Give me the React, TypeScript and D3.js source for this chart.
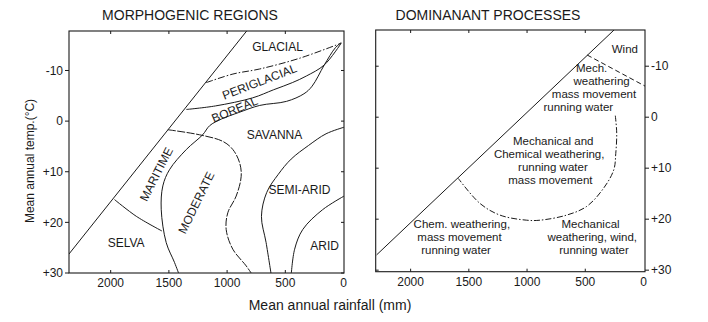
import React from "react";
import * as d3 from "d3";

type Pt = [number, number]; // [rainfall mm, temperature °C]

const rainTicks = [2000, 1500, 1000, 500, 0];
const tempTicks = [-10, 0, 10, 20, 30];
const tempLabel = (t: number) => (t > 0 ? `+${t}` : `${t}`);

// morphogenic regions (left)
const regionDiagonal: Pt[] = [[2360, 26.3], [832, -17.8]];
const glacialLine: Pt[] = [[1180, -7.6], [950, -9.3], [720, -10.3], [380, -12.4], [20, -15.4]];
const periglacialLine: Pt[] = [[1350, -2.3], [1100, -3.0], [780, -4.6], [600, -6.2], [440, -7.6], [320, -8.9], [165, -11.1], [20, -15.4]];
const borealLine: Pt[] = [
  [20, -15.5], [70, -14.5], [165, -11.1], [270, -6.9], [340, -5.4], [490, -3.9], [720, -3.1],
  [900, -1.7], [1050, -0.4], [1150, 0.9], [1210, 2.7], [1350, 5.6], [1495, 9.6], [1552, 12.8],
  [1566, 17.4], [1523, 24.0], [1452, 27.9], [1409, 30.5],
];
const selvaLine: Pt[] = [[1967, 15.5], [1780, 18.8], [1560, 21.7]];
const moderateLine: Pt[] = [
  [1509, 1.7], [1237, 2.7], [1037, 4.0], [951, 5.6], [893, 8.2], [879, 10.9], [922, 14.8],
  [994, 18.1], [1008, 21.4], [951, 25.3], [836, 28.6], [779, 30.5],
];
const semiAridLine: Pt[] = [[-5, 1.2], [150, 2.5], [300, 4.8], [450, 7.5], [560, 10.5], [660, 14.1], [705, 18.8], [665, 24], [620, 30.5]];
const aridLine: Pt[] = [[-5, 14.8], [180, 17.5], [350, 21.4], [420, 25.3], [450, 30.5]];

const regionNames = ["GLACIAL", "PERIGLACIAL", "BOREAL", "SAVANNA", "MARITIME", "MODERATE", "SEMI-ARID", "ARID", "SELVA"];
const regionAnchors: Pt[] = [[567, -14.7], [722, -7.8], [936, -2.3], [593, 2.7], [1609, 10.5], [1265, 16.1], [378, 13.5], [163, 24.7], [1867, 24]];

// dominant processes (right)
const processDiagonal: Pt[] = [[2292, 27.0], [253, -17.1]];
const windLine: Pt[] = [[484, -12.2], [-13, -6.1]];
const chemLine: Pt[] = [
  [242, -0.3], [230, 3.1], [238, 7.1], [255, 10.3], [345, 14.0], [488, 17.5], [660, 19.2],
  [889, 20.2], [1003, 20.2], [1233, 19.2], [1405, 16.9], [1591, 12.0],
];
const processNames = [
  ["Wind"],
  ["Mech.", "weathering", "mass movement", "running water"],
  ["Mechanical and", "Chemical weathering,", "running water", "mass movement"],
  ["Chem. weathering,", "mass movement", "running water"],
  ["Mechanical", "weathering, wind,", "running water"],
];
const processAnchors: Pt[][] = [
  [[160, -13.4]],
  [[445, -9.57], [360, -7.02], [425, -4.47], [560, -1.92]],
  [[775, 4.75], [810, 7.29], [778, 9.84], [800, 12.39]],
  [[1560, 21.02], [1580, 23.57], [1610, 26.12]],
  [[455, 21.02], [440, 23.57], [425, 26.12]],
];

const FONT = "'Liberation Sans', Arial, Helvetica, sans-serif";
const INK = "#1a1a1a";

type PanelProps = {
  x0: number; x1: number; y0: number; y1: number;
  rainDomain: [number, number]; tempDomain: [number, number];
  side: "left" | "right";
  id: string;
  render: (line: (p: Pt[]) => string) => React.ReactNode;
};

function Panel({ x0, x1, y0, y1, rainDomain, tempDomain, side, id, render }: PanelProps) {
  const x = d3.scaleLinear().domain(rainDomain).range([x0, x1]);
  const y = d3.scaleLinear().domain(tempDomain).range([y0, y1]);
  const gen = d3.line<Pt>().x((d) => x(d[0])).y((d) => y(d[1])).curve(d3.curveCatmullRom.alpha(0.5));
  const line = (p: Pt[]) => gen(p) || "";
  const outX = side === "left" ? x0 : x1;
  const inX = side === "left" ? x1 : x0;
  const dir = side === "left" ? -1 : 1;
  return (
    <g>
      <clipPath id={id}>
        <rect x={x0} y={y0} width={x1 - x0} height={y1 - y0} />
      </clipPath>
      <g clipPath={`url(#${id})`} fill="none" stroke={INK} strokeWidth={1}>
        {render(line)}
      </g>
      <rect x={x0} y={y0} width={x1 - x0} height={y1 - y0} fill="none" stroke={INK} strokeWidth={1.1} />
      {tempTicks.map((t) => (
        <g key={t}>
          <line x1={outX} x2={outX + dir * 4} y1={y(t)} y2={y(t)} stroke={INK} />
          <line x1={inX} x2={inX + dir * 3} y1={y(t)} y2={y(t)} stroke={INK} />
          <text x={outX + dir * 6} y={y(t)} dy="0.35em" textAnchor={side === "left" ? "end" : "start"}
            fontSize={12} fontFamily={FONT} fill={INK}>{tempLabel(t)}</text>
        </g>
      ))}
      {rainTicks.map((r) => (
        <g key={r}>
          {r !== 0 && <line x1={x(r)} x2={x(r)} y1={y1} y2={y1 - 3} stroke={INK} />}
          {r !== 0 && <line x1={x(r)} x2={x(r)} y1={y0} y2={y0 + 3} stroke={INK} />}
          <text x={x(r)} y={y1 + 10} dy="0.35em" textAnchor="middle" fontSize={12} fontFamily={FONT} fill={INK}>{r}</text>
        </g>
      ))}
    </g>
  );
}

export default function App() {
  const xL = d3.scaleLinear().domain([2358, -4]).range([69, 344]);
  const yL = d3.scaleLinear().domain([-17.8, 30]).range([31, 273]);
  const xR = d3.scaleLinear().domain([2300, -13]).range([375.7, 645]);
  const yR = d3.scaleLinear().domain([-17.1, 30.3]).range([30, 271.7]);
  const angles: Record<string, number> = { PERIGLACIAL: -21, BOREAL: -23, MARITIME: -63, MODERATE: -64 };
  return (
    <svg width={708} height={322} style={{ position: "absolute", left: 0, top: 0, background: "#fff" }}>
      <text x={190} y={15} dy="0.35em" textAnchor="middle" fontSize={14} fontFamily={FONT} fill={INK}>MORPHOGENIC REGIONS</text>
      <text x={488} y={15} dy="0.35em" textAnchor="middle" fontSize={14} fontFamily={FONT} fill={INK}>DOMINANANT PROCESSES</text>
      <Panel x0={69} x1={344} y0={31} y1={273} rainDomain={[2358, -4]} tempDomain={[-17.8, 30]} side="left" id="clipL"
        render={(line) => (
          <>
            <path d={line(regionDiagonal)} />
            <path d={line(glacialLine)} strokeDasharray="7,2,1.5,2" />
            <path d={line(periglacialLine)} />
            <path d={line(borealLine)} />
            <path d={line(selvaLine)} />
            <path d={line(moderateLine)} strokeDasharray="8,1.5" />
            <path d={line(semiAridLine)} />
            <path d={line(aridLine)} />
          </>
        )} />
      <Panel x0={375.7} x1={645} y0={30} y1={271.7} rainDomain={[2300, -13]} tempDomain={[-17.1, 30.3]} side="right" id="clipR"
        render={(line) => (
          <>
            <path d={line(processDiagonal)} />
            <path d={line(windLine)} strokeDasharray="5,3" />
            <path d={line(chemLine)} strokeDasharray="6,2,1.5,2" />
          </>
        )} />
      {regionNames.map((name, i) => (
        <text key={name}
          transform={`translate(${xL(regionAnchors[i][0])},${yL(regionAnchors[i][1])}) rotate(${angles[name] || 0})`}
          dy="0.35em" textAnchor="middle" fontSize={12} fontFamily={FONT} fill={INK}>{name}</text>
      ))}
      {processNames.map((lines, i) =>
        lines.map((s, j) => (
          <text key={`${i}-${j}`} x={xR(processAnchors[i][j][0])} y={yR(processAnchors[i][j][1])} dy="0.35em"
            textAnchor="middle" fontSize={11.5} fontFamily={FONT} fill={INK}>{s}</text>
        ))
      )}
      <text transform="translate(34,161) rotate(-90)" textAnchor="middle" fontSize={12} fontFamily={FONT} fill={INK}>Mean annual temp.(°C)</text>
      <text x={330} y={310} textAnchor="middle" fontSize={14} fontFamily={FONT} fill={INK}>Mean annual rainfall (mm)</text>
    </svg>
  );
}
